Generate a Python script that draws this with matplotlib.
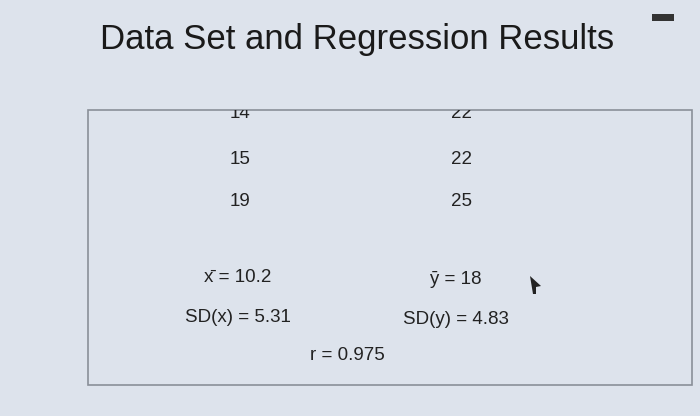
import matplotlib.pyplot as plt
from matplotlib.patches import Rectangle, Polygon

x_vals = [14, 15, 19]
y_vals = [22, 22, 25]
row_y = [113, 160, 201]
stats_left = ['x̄ = 10.2', 'SD(x) = 5.31']
stats_right = ['ȳ = 18', 'SD(y) = 4.83']
r_text = 'r = 0.975'

fig = plt.figure(figsize=(7, 4.16), dpi=100)
fig.patch.set_facecolor('#dde3ec')
ax = fig.add_axes([0, 0, 1, 1])
ax.set_xlim(0, 700)
ax.set_ylim(416, 0)
ax.axis('off')

ax.text(100, 40, 'Data Set and Regression Results', fontsize=25, ha='left',
        va='center', color='#1a1a1a', family='Liberation Sans')

box = Rectangle((88, 110), 604, 275, fill=False, edgecolor='#8a8f98', linewidth=1.2)
ax.add_patch(box)

for xv, yv, ry in zip(x_vals, y_vals, row_y):
    for val, px in ((xv, 240), (yv, 462)):
        t = ax.text(px, ry, str(val), fontsize=13.5, ha='center', va='center',
                    color='#222222', family='Liberation Sans')
        t.set_clip_on(True)
        t.set_clip_path(box)

for i, (sl, sr) in enumerate(zip(stats_left, stats_right)):
    ax.text(238, 278 + 40 * i, sl, fontsize=13.5, ha='center', va='center',
            color='#222222', family='Liberation Sans')
    ax.text(456, 280 + 40 * i, sr, fontsize=13.5, ha='center', va='center',
            color='#222222', family='Liberation Sans')
ax.text(347, 356, r_text, fontsize=13.5, ha='center', va='center',
        color='#222222', family='Liberation Sans')

# cursor and dark bar from the photo
ax.add_patch(Polygon([(530, 276), (541, 286), (536, 287), (536, 294), (533, 294), (532, 288)],
                     closed=True, facecolor='#222222'))
ax.add_patch(Rectangle((652, 14), 22, 7, facecolor='#333333'))

fig.savefig('out.png', dpi=100, facecolor=fig.get_facecolor())
